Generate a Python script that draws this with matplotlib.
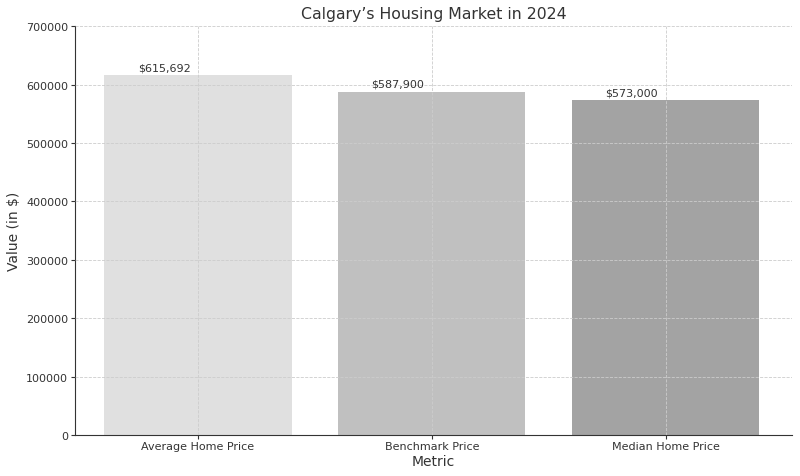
import matplotlib.pyplot as plt

metrics = ["Average Home Price", "Benchmark Price", "Median Home Price"]
values = [615692, 587900, 573000]
colors = ["#e0e0e0", "#c0c0c0", "#a3a3a3"]
labels = ["$615,692", "$587,900", "$573,000"]

plt.rcParams["text.color"] = "#333333"
plt.rcParams["axes.labelcolor"] = "#333333"
plt.rcParams["xtick.color"] = "#333333"
plt.rcParams["ytick.color"] = "#333333"

fig, ax = plt.subplots(figsize=(8, 4.77), dpi=100)
fig.subplots_adjust(left=0.094, right=0.99, top=0.943, bottom=0.086)

x = range(len(metrics))
ax.bar(x, values, color=colors, width=0.8, zorder=1)
for i, v in enumerate(values):
    ax.text(i - 0.145, v + 5000, labels[i], ha="center", va="bottom", fontsize=8)

ax.set_xticks(list(x))
ax.set_xticklabels(metrics, fontsize=8)
ax.tick_params(axis="x", length=3, pad=1.5)
ax.tick_params(axis="y", labelsize=8, length=3, pad=2)
ax.set_ylim(0, 700000)
ax.set_xlim(-0.525, 2.54)
ax.set_title("Calgary’s Housing Market in 2024", fontsize=11.3)
ax.set_xlabel("Metric", fontsize=10, labelpad=2)
ax.set_ylabel("Value (in $)", fontsize=10)
ax.grid(True, linestyle="--", linewidth=0.6, color="#cccccc", zorder=2)
ax.set_axisbelow(False)
ax.spines["top"].set_visible(False)
ax.spines["right"].set_visible(False)
ax.spines["left"].set_color("#333333")
ax.spines["bottom"].set_color("#333333")

plt.savefig("out.png")
plt.close()
